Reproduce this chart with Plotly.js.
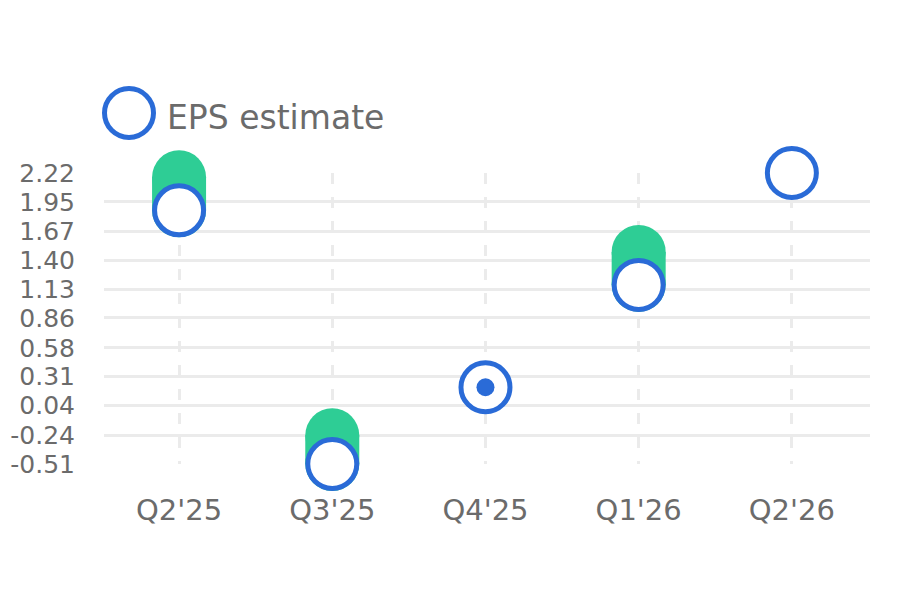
<!DOCTYPE html>
<html>
<head>
<meta charset="utf-8">
<script src="https://cdn.plot.ly/plotly-3.0.1.min.js"></script>
<style>html,body{margin:0;padding:0;background:#fff;}#chart{width:900px;height:600px;}</style>
</head>
<body>
<div id="chart"></div>
<script>
// Data
const quarters = ["Q2'25", "Q3'25", "Q4'25", "Q1'26", "Q2'26"];
const epsEstimate = [1.87, -0.51, 0.21, 1.17, 2.22];
const epsActual = [2.18, -0.24, 0.21, 1.48, null];
const yTickLabels = ["-0.51", "-0.24", "0.04", "0.31", "0.58", "0.86", "1.13", "1.40", "1.67", "1.95", "2.22"];
const legendLabel = "EPS estimate";

const BLUE = '#2a6bd7';
const GREEN = '#2ecd95';
const GREY = '#6b6b6b';
const GRID = '#ebebeb';

// Build capsule segments (estimate -> actual) where actual differs from estimate
const capX = [], capY = [];
const dotX = [], dotY = [];
quarters.forEach((q, i) => {
  const a = epsActual[i], e = epsEstimate[i];
  if (a === null || a === undefined) return;
  if (a !== e) {
    capX.push(q, q, null);
    capY.push(e, a, null);
  } else {
    dotX.push(q);
    dotY.push(a);
  }
});

const traces = [
  {
    type: 'scatter', mode: 'lines+markers',
    x: capX, y: capY,
    line: {color: GREEN, width: 54},
    marker: {color: GREEN, size: 54, line: {width: 0}},
    connectgaps: false, cliponaxis: false, hoverinfo: 'skip', showlegend: false
  },
  {
    type: 'scatter', mode: 'markers',
    x: quarters, y: epsEstimate, name: legendLabel,
    marker: {color: '#ffffff', size: 49, line: {color: BLUE, width: 5}},
    cliponaxis: false, showlegend: false
  },
  {
    type: 'scatter', mode: 'markers',
    x: dotX, y: dotY,
    marker: {color: BLUE, size: 18, line: {width: 0}},
    cliponaxis: false, showlegend: false
  }
];

const tickVals = yTickLabels.map(Number);

const layout = {
  width: 900, height: 600,
  margin: {l: 104, r: 30, t: 173, b: 136},
  paper_bgcolor: '#ffffff', plot_bgcolor: '#ffffff',
  font: {family: 'DejaVu Sans', color: GREY},
  showlegend: false,
  xaxis: {
    type: 'category',
    categoryorder: 'array', categoryarray: quarters,
    range: [-0.49, 4.51],
    showgrid: true, gridcolor: GRID, gridwidth: 3, griddash: '11px,13px',
    zeroline: false, showline: false, ticks: '',
    tickfont: {size: 29, color: GREY, family: 'DejaVu Sans'},
    ticklabelstandoff: 26
  },
  yaxis: {
    range: [-0.51, 2.22],
    tickvals: tickVals, ticktext: yTickLabels,
    showgrid: true, gridcolor: GRID, gridwidth: 3,
    zeroline: false, showline: false, ticks: '',
    tickfont: {size: 25, color: GREY, family: 'DejaVu Sans'},
    ticklabelstandoff: 28
  },
  shapes: [{
    type: 'circle', xref: 'paper', yref: 'paper',
    xsizemode: 'pixel', ysizemode: 'pixel',
    xanchor: (129 - 104) / 766, yanchor: (464 - 113) / 291,
    x0: -24.5, x1: 24.5, y0: -24.5, y1: 24.5,
    line: {color: BLUE, width: 5}, fillcolor: '#ffffff'
  }],
  annotations: [{
    xref: 'paper', yref: 'paper',
    x: (165 - 104) / 766, y: (464 - 117) / 291,
    xanchor: 'left', yanchor: 'middle',
    text: legendLabel, showarrow: false,
    font: {size: 33, color: GREY, family: 'DejaVu Sans'}
  }]
};

Plotly.newPlot('chart', traces, layout, {displayModeBar: false, staticPlot: true});
</script>
</body>
</html>
